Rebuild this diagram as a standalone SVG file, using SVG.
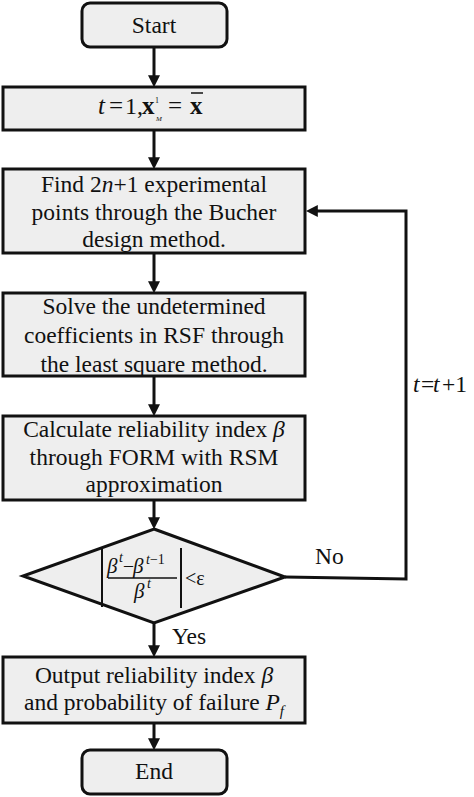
<svg xmlns="http://www.w3.org/2000/svg" width="474" height="797" viewBox="0 0 474 797">
<style>
.box{fill:#eeeeee;stroke:#111;stroke-width:3}
.t{font-family:"Liberation Serif","Times New Roman",serif;font-size:23.5px;fill:#111}
.c{text-anchor:middle}
.i{font-style:italic}
.b{font-weight:bold}
.ln{fill:none;stroke:#111;stroke-width:3}
.thin{fill:none;stroke:#111;stroke-width:2}
</style>
<defs>
<marker id="ah" markerUnits="userSpaceOnUse" markerWidth="12" markerHeight="12" viewBox="0 0 10 10" refX="4" refY="5" orient="auto">
<path d="M0,0 L10,5 L0,10 z" fill="#111"/>
</marker>
</defs>
<g id="connectors">
<line class="ln" x1="154" y1="47" x2="154" y2="80" marker-end="url(#ah)"/>
<line class="ln" x1="154" y1="130" x2="154" y2="162" marker-end="url(#ah)"/>
<line class="ln" x1="154" y1="253" x2="154" y2="286" marker-end="url(#ah)"/>
<line class="ln" x1="154" y1="376" x2="154" y2="409" marker-end="url(#ah)"/>
<line class="ln" x1="154" y1="500" x2="154" y2="522" marker-end="url(#ah)"/>
<line class="ln" x1="154" y1="623" x2="154" y2="650" marker-end="url(#ah)"/>
<line class="ln" x1="154" y1="723" x2="154" y2="743" marker-end="url(#ah)"/>
<polyline class="ln" points="285,577 406,579 406,211 313,211" marker-end="url(#ah)"/>
<text class="t" x="315" y="564">No</text>
<text class="t" x="172" y="644">Yes</text>
<text class="t" y="392"><tspan class="i" x="413">t</tspan><tspan x="421">=</tspan><tspan class="i" x="433">t</tspan><tspan x="442">+1</tspan></text>
</g>
<g id="start">
<rect class="box" x="82" y="3" width="145" height="44" rx="8"/>
<text class="t c" x="154" y="33">Start</text>
</g>
<g id="init">
<rect class="box" x="3" y="87" width="302" height="43"/>
<text class="t i" x="98" y="114" style="font-size:25px">t</text>
<text class="t" x="109" y="114" style="font-size:25px">=</text>
<text class="t" x="125" y="114" style="font-size:24px">1,</text>
<text class="t b" x="142" y="114" style="font-size:25px">x</text>
<text class="t" x="155" y="103" style="font-size:8px">1</text>
<text class="t i" x="156" y="121" style="font-size:7px">M</text>
<text class="t" x="168" y="114" style="font-size:25px">=</text>
<text class="t b" x="190" y="114" style="font-size:25px">x</text>
<line x1="191" y1="93" x2="203" y2="93" stroke="#111" stroke-width="1.5"/>
</g>
<g id="points">
<rect class="box" x="3" y="169" width="302" height="84"/>
<text class="t c" x="154" y="192">Find 2<tspan class="i">n</tspan>+1 experimental</text>
<text class="t c" x="154" y="220">points through the Bucher</text>
<text class="t c" x="154" y="247">design method.</text>
</g>
<g id="solve">
<rect class="box" x="3" y="293" width="302" height="83"/>
<text class="t c" x="154" y="314">Solve the undetermined</text>
<text class="t c" x="154" y="343">coefficients in RSF through</text>
<text class="t c" x="154" y="372">the least square method.</text>
</g>
<g id="calc">
<rect class="box" x="3" y="416" width="302" height="84"/>
<text class="t c" x="154" y="437">Calculate reliability index <tspan class="i">β</tspan></text>
<text class="t c" x="154" y="465">through FORM with RSM</text>
<text class="t c" x="154" y="492">approximation</text>
</g>
<g id="check">
<polygon class="box" points="154,529 285,577 154,623 23,576"/>
<line class="thin" x1="102" y1="548" x2="102" y2="607"/>
<line class="thin" x1="181" y1="548" x2="181" y2="608"/>
<line x1="108" y1="578" x2="177" y2="578" stroke="#111" stroke-width="1.5"/>
<text class="t i" x="107" y="573" style="font-size:21px">β</text>
<text class="t i" x="119" y="562" style="font-size:14px">t</text>
<text class="t" x="124" y="571" style="font-size:18px">–</text>
<text class="t i" x="133" y="573" style="font-size:21px">β</text>
<text class="t" x="146" y="564" style="font-size:14px"><tspan class="i">t</tspan>−1</text>
<text class="t i" x="134" y="598" style="font-size:21px">β</text>
<text class="t i" x="147" y="588" style="font-size:14px">t</text>
<text class="t" x="185" y="585" style="font-size:20px">&lt;ε</text>
</g>
<g id="output">
<rect class="box" x="3" y="657" width="302" height="66"/>
<text class="t c" x="154" y="683">Output reliability index <tspan class="i">β</tspan></text>
<text class="t c" x="154" y="710">and probability of failure <tspan class="i">P</tspan><tspan class="i" dy="6" style="font-size:15px">f</tspan></text>
</g>
<g id="end">
<rect class="box" x="82" y="750" width="145" height="44" rx="8"/>
<text class="t c" x="154" y="779">End</text>
</g>
</svg>
